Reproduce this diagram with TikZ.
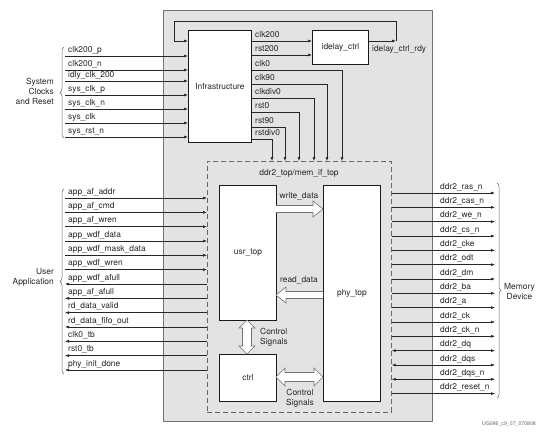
\documentclass[tikz,border=0pt]{standalone}
\usepackage{fontspec}
\setmainfont{TeX Gyre Heros}
\usetikzlibrary{arrows.meta,decorations.pathreplacing,calc}
\begin{document}
\begin{tikzpicture}[x=1pt,y=-1pt,
  font=\fontsize{8.4}{10}\selectfont,
  blk/.style={draw=black!90,fill=white,line width=0.9pt,inner sep=0pt,anchor=north west},
  sig/.style={draw=black!85,line width=0.6pt},
  arr/.style={sig,-{Latex[length=4pt,width=3pt]}},
  barr/.style={sig,{Latex[length=4pt,width=3pt]}-{Latex[length=4pt,width=3pt]}},
  lbl/.style={anchor=base west,inner sep=0pt,text=black!85},
  hollow/.style={draw=black!55,fill=white,line width=0.6pt,line join=miter},
  brc/.style={draw=black!60,line width=0.5pt,decorate,decoration={brace,amplitude=4pt}},
  txt/.style={inner sep=0pt,text=black!85},
]
\useasboundingbox (0,0) rectangle (554,434);
% chip area
\node[draw=black!55,fill=black!11,line width=0.8pt,minimum width=269pt,minimum height=411pt,anchor=north west,inner sep=0pt] (chip) at (163,10) {};
% dashed mem_if_top
\node[draw=black!60,dash pattern=on 5pt off 3pt,line width=0.7pt,minimum width=184pt,minimum height=251pt,anchor=north west,inner sep=0pt] (mem) at (207,161) {};
\node[txt] (memlbl) at (299,173) {ddr2\_top/mem\_if\_top};
% blocks
\node[blk,minimum width=63pt,minimum height=112pt] (infra) at (188,30) {};
\node[txt] (infralbl) at (infra.center) {Infrastructure};
\node[blk,minimum width=56pt,minimum height=34pt] (idelay) at (312,30) {};
\node[txt] (idelaylbl) at (idelay.center) {idelay\_ctrl};
\node[blk,minimum width=57pt,minimum height=135pt] (usr) at (219,185) {};
\node[txt] (usrlbl) at (usr.center) {usr\_top};
\node[blk,minimum width=57pt,minimum height=216pt] (phy) at (323,185) {};
\node[txt] (phylbl) at (phy.center) {phy\_top};
\node[blk,minimum width=57pt,minimum height=47pt] (ctrl) at (219,354) {};
\node[txt] (ctrllbl) at (ctrl.center) {ctrl};
% system clock inputs
\foreach \y/\t [count=\i] in {56/clk200\_p,70/clk200\_n,81/idly\_clk\_200,95/sys\_clk\_p,109/sys\_clk\_n,123/sys\_clk,137/sys\_rst\_n}{
  \coordinate (sc\i) at (65,\y);
  \draw[arr] (sc\i) -- (sc\i -| infra.west);
  \node[lbl] (scl\i) at (68,\y-3.8) {\t};
}
% infrastructure to idelay
\draw[arr] (infra.east |- 0,41) -- (idelay.west |- 0,41);
\draw[arr] (infra.east |- 0,55) -- (idelay.west |- 0,55);
\node[lbl] (l200) at (255,37.2) {clk200};
\node[lbl] (lr200) at (255,51.2) {rst200};
% feedback
\coordinate (rdy) at (396,41);
\draw[arr] (idelay.east |- rdy) -- (rdy);
\draw[arr] (rdy) -- (396,21) -- (174,21) -- (174,41) -- (infra.west |- 0,41);
\node[lbl] (lrdy) at (372,51) {idelay\_ctrl\_rdy};
% clocks into mem
\foreach \y/\x/\t [count=\i] in {70/342/clk0,84/327/clk90,98/314/clkdiv0,112/299/rst0,127/285/rst90,139/272/rstdiv0}{
  \draw[arr] (infra.east |- 0,\y) -| (mem.north -| \x,0);
  \node[lbl] (cl\i) at (255,\y-3.8) {\t};
}
% user application
\foreach \t [count=\i from 0] in {app\_af\_addr,app\_af\_cmd,app\_af\_wren,app\_wdf\_data,app\_wdf\_mask\_data,app\_wdf\_wren,app\_wdf\_afull,app\_af\_afull,rd\_data\_valid,rd\_data\_fifo\_out,clk0\_tb,rst0\_tb,phy\_init\_done}{
  \coordinate (ua\i) at (65,198+14.33*\i);
  \ifnum\i<6
    \draw[arr] (ua\i) -- (ua\i -| mem.west);
  \else
    \draw[arr] (ua\i -| mem.west) -- (ua\i);
  \fi
  \node[lbl] (ual\i) at (68,198+14.33*\i-3.8) {\t};
}
% memory device
\foreach \t [count=\i from 0] in {ddr2\_ras\_n,ddr2\_cas\_n,ddr2\_we\_n,ddr2\_cs\_n,ddr2\_cke,ddr2\_odt,ddr2\_dm,ddr2\_ba,ddr2\_a,ddr2\_ck,ddr2\_ck\_n,ddr2\_dq,ddr2\_dqs,ddr2\_dqs\_n,ddr2\_reset\_n}{
  \coordinate (md\i) at (495,193+14.33*\i);
  \ifnum\i<11
    \draw[arr] (md\i -| mem.east) -- (md\i);
  \else\ifnum\i<14
    \draw[barr] (md\i -| mem.east) -- (md\i);
  \else
    \draw[arr] (md\i -| mem.east) -- (md\i);
  \fi\fi
  \node[lbl] (mdl\i) at (440,193+14.33*\i-3.8) {\t};
}
% hollow arrows
\draw[hollow] (276,205.5) -- (313,205.5) -- (313,201) -- (323,209) -- (313,217) -- (313,212.5) -- (276,212.5);
\node[txt] (wd) at (299,196) {write\_data};
\draw[hollow] (323,291.5) -- (286,291.5) -- (286,287) -- (276,295) -- (286,303) -- (286,298.5) -- (323,298.5);
\node[txt] (rd) at (299,280) {read\_data};
\draw[hollow] (247,320) -- (255,328) -- (251.5,328) -- (251.5,346) -- (255,346) -- (247,354) -- (239,346) -- (242.5,346) -- (242.5,328) -- (239,328) -- cycle;
\node[txt,align=left,anchor=west] (cs1) at (260,337) {Control\\Signals};
\draw[hollow] (276,377) -- (285,368) -- (285,372.5) -- (314,372.5) -- (314,368) -- (323,377) -- (314,386) -- (314,381.5) -- (285,381.5) -- (285,386) -- cycle;
\node[txt,align=center] (cs2) at (300,398) {Control\\Signals};
% braces
\draw[brc] (64,138) -- (64,47);
\node[txt,align=right,anchor=east] (sysl) at (54,91) {System\\Clocks\\and Reset};
\draw[brc] (64,374) -- (64,189);
\node[txt,align=right,anchor=east] (usrapp) at (54,277) {User\\Application};
\draw[brc] (497,183) -- (497,398);
\node[txt,align=center,anchor=west] (memdev) at (504,291) {Memory\\Device};
\node[txt,font=\fontsize{5.2}{6}\selectfont,text=black!60] (fn) at (509,424) {UG086\_c9\_07\_070808};
\end{tikzpicture}
\end{document}
